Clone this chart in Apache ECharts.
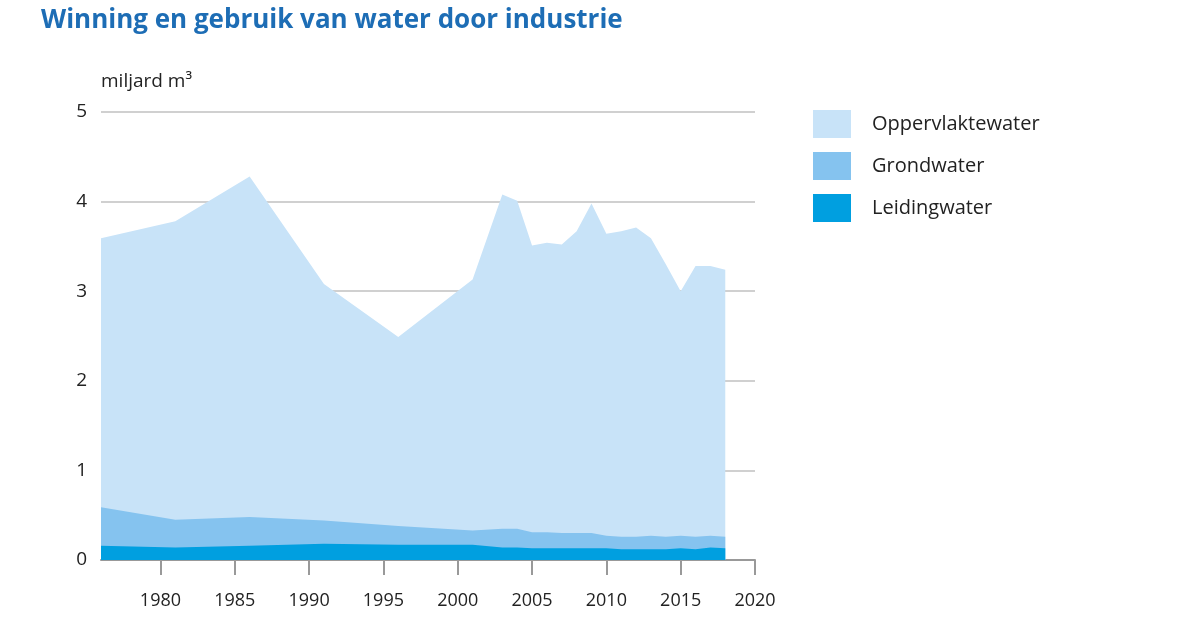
<!DOCTYPE html>
<html>
<head>
<meta charset="utf-8">
<title>Winning en gebruik van water door industrie</title>
<script src="https://cdn.jsdelivr.net/npm/echarts@6/dist/echarts.min.js"></script>
<style>
  html, body { margin: 0; padding: 0; background: #fff; }
  #chart { width: 1200px; height: 630px; }
</style>
</head>
<body>
<div id="chart"></div>
<script>
// jaren
var years = [1976, 1981, 1986, 1991, 1996, 2001, 2003, 2004, 2005, 2006, 2007,
             2008, 2009, 2010, 2011, 2012, 2013, 2014, 2015, 2016, 2017, 2018];
// miljard m3
var leidingwater = [0.16, 0.14, 0.16, 0.18, 0.17, 0.17, 0.14, 0.14, 0.13, 0.13, 0.13,
                    0.13, 0.13, 0.13, 0.12, 0.12, 0.12, 0.12, 0.13, 0.12, 0.14, 0.13];
var grondwater = [0.43, 0.31, 0.32, 0.26, 0.21, 0.16, 0.21, 0.21, 0.18, 0.18, 0.17,
                  0.17, 0.17, 0.14, 0.14, 0.14, 0.15, 0.14, 0.14, 0.14, 0.13, 0.13];
var oppervlaktewater = [3.00, 3.33, 3.80, 2.64, 2.11, 2.80, 3.73, 3.66, 3.20, 3.23, 3.22,
                        3.37, 3.68, 3.37, 3.41, 3.45, 3.32, 3.04, 2.73, 3.02, 3.01, 2.98];
var xTicks = [1980, 1985, 1990, 1995, 2000, 2005, 2010, 2015, 2020];

var font = '"Open Sans", sans-serif';

// gestapeld: elke laag tot aan de as, bovenste laag eerst getekend
var lagen = [leidingwater, grondwater, oppervlaktewater];
var cum = [];
for (var l = 0; l < lagen.length; l++) {
  var rij = [];
  for (var i = 0; i < years.length; i++) {
    var onder = l > 0 ? cum[l - 1][i][1] : 0;
    rij.push([years[i], +(onder + lagen[l][i]).toFixed(3)]);
  }
  cum.push(rij);
}

function areaSeries(name, data, color, z) {
  return {
    name: name,
    type: 'line',
    data: data,
    z: z,
    symbol: 'none',
    lineStyle: { width: 0 },
    areaStyle: { color: color, opacity: 1 },
    itemStyle: { color: color },
    emphasis: { disabled: true }
  };
}

var chart = echarts.init(document.getElementById('chart'));
chart.setOption({
  animation: false,
  title: {
    text: 'Winning en gebruik van water door industrie',
    left: 36,
    top: 3,
    textStyle: { color: '#1d6db5', fontSize: 26, fontWeight: 'bold', fontFamily: font }
  },
  legend: {
    orient: 'vertical',
    left: 813,
    top: 110,
    padding: 0,
    itemWidth: 38,
    itemHeight: 28,
    itemGap: 14,
    icon: 'rect',
    data: ['Oppervlaktewater', 'Grondwater', 'Leidingwater'],
    textStyle: { color: '#222', fontSize: 20, fontFamily: font, padding: [0, 0, 0, 16] }
  },
  grid: { left: 101, right: 445, top: 112, bottom: 70 },
  xAxis: {
    type: 'value',
    min: 1976,
    max: 2020,
    axisLine: { show: true, lineStyle: { color: '#999', width: 2 } },
    axisTick: { show: true, customValues: xTicks, length: 15, lineStyle: { color: '#999', width: 2 } },
    axisLabel: {
      customValues: xTicks, margin: 32, color: '#222', fontSize: 18, fontFamily: font,
      formatter: function (v) { return String(v); }
    },
    splitLine: { show: false }
  },
  yAxis: {
    type: 'value',
    min: 0,
    max: 5,
    interval: 1,
    name: 'miljard m³',
    nameLocation: 'end',
    nameGap: 21,
    nameTextStyle: { align: 'left', color: '#222', fontSize: 19, fontFamily: font },
    axisLine: { show: false },
    axisTick: { show: false },
    axisLabel: { margin: 14, color: '#222', fontSize: 19, fontFamily: font },
    splitLine: { lineStyle: { color: '#d0d0d0', width: 2 } }
  },
  series: [
    areaSeries('Oppervlaktewater', cum[2], '#c8e3f8', 2),
    areaSeries('Grondwater', cum[1], '#85c3ef', 3),
    areaSeries('Leidingwater', cum[0], '#009fe0', 4)
  ]
});
</script>
</body>
</html>
